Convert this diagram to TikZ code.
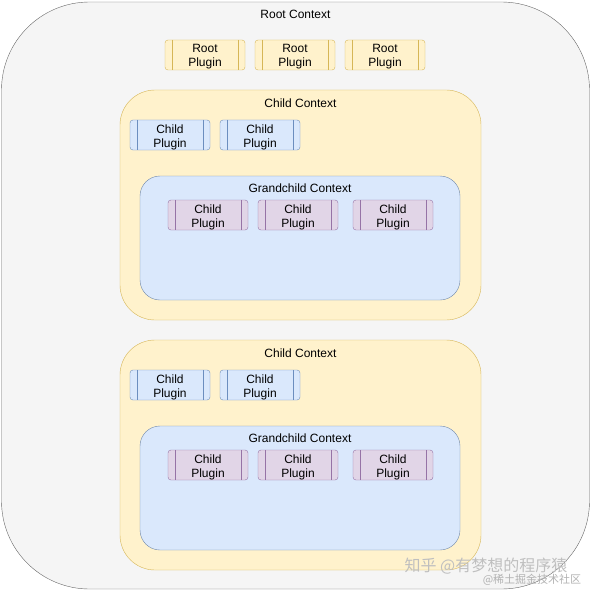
\documentclass[tikz,border=0pt]{standalone}
\usepackage{fontspec}
\setmainfont{Liberation Sans}
\newfontfamily\cjk{Noto Sans CJK SC}
\definecolor{rootfill}{HTML}{F5F5F5}
\definecolor{rootline}{HTML}{666666}
\definecolor{yfill}{HTML}{FFF2CC}
\definecolor{yline}{HTML}{D6B656}
\definecolor{bfill}{HTML}{DAE8FC}
\definecolor{bline}{HTML}{6C8EBF}
\definecolor{pfill}{HTML}{E1D5E7}
\definecolor{pline}{HTML}{9673A6}
\tikzset{
  plugin/.style={draw, rounded corners=3pt, minimum width=80pt, minimum height=30pt,
    inner sep=0pt, align=center, text height=24pt, text depth=0pt, font=\fontsize{12}{14}\selectfont,
    path picture={
      \draw[#1] ([xshift=7pt]path picture bounding box.north west) -- ([xshift=7pt]path picture bounding box.south west);
      \draw[#1] ([xshift=-7pt]path picture bounding box.north east) -- ([xshift=-7pt]path picture bounding box.south east);
    }},
  rootplugin/.style={plugin=yline, fill=yfill, draw=yline},
  childplugin/.style={plugin=bline, fill=bfill, draw=bline},
  gcplugin/.style={plugin=pline, fill=pfill, draw=pline},
  ctx/.style={draw, inner sep=0pt},
  ctxlabel/.style={below, inner sep=0pt, yshift=-9pt, font=\fontsize{12}{14}\selectfont}
}
\begin{document}
\begin{tikzpicture}[x=1pt,y=-1pt]
	\useasboundingbox (0,0) rectangle (591,591);

	% root context
	\node[ctx, fill=rootfill, draw=rootline, rounded corners=88pt, minimum width=588pt, minimum height=587pt] (root) at (295.5,295.5) {};
	\node[ctxlabel, yshift=1pt] (rootlabel) at (root.north) {Root Context};

	\foreach \x/\n in {205/rootA, 295/rootB, 385/rootC}
		{\node[rootplugin] (\n) at (\x,55) {Root\\Plugin};}

	% child contexts
	\foreach \y/\i in {0/1, 250/2} {
		\node[ctx, fill=yfill, draw=yline, rounded corners=35pt, minimum width=361pt, minimum height=230pt] (child\i) at (300.5,205+\y) {};
		\node[ctxlabel] (childlabel\i) at (child\i.north) {Child Context};

		\node[childplugin] (child\i A) at (170,135+\y) {Child\\Plugin};
		\node[childplugin] (child\i B) at (260,135+\y) {Child\\Plugin};

		\node[ctx, fill=bfill, draw=bline!70!gray, rounded corners=20pt, minimum width=320pt, minimum height=124pt] (grand\i) at (300,238+\y) {};
		\node[ctxlabel, yshift=1pt] (grandlabel\i) at (grand\i.north) {Grandchild Context};

		\node[gcplugin] (grand\i A) at (208,215+\y) {Child\\Plugin};
		\node[gcplugin] (grand\i B) at (298,215+\y) {Child\\Plugin};
		\node[gcplugin] (grand\i C) at (393,215+\y) {Child\\Plugin};
	}

	% watermark
	\node[text=black!25, font=\cjk\fontsize{16}{18}\selectfont, inner sep=0pt] (mark) at (486,566) {知乎 @有梦想的程序猿};
	\node[text=black!30, font=\cjk\fontsize{11}{13}\selectfont, inner sep=0pt] (mark2) at (532,580) {@稀土掘金技术社区};
\end{tikzpicture}
\end{document}
